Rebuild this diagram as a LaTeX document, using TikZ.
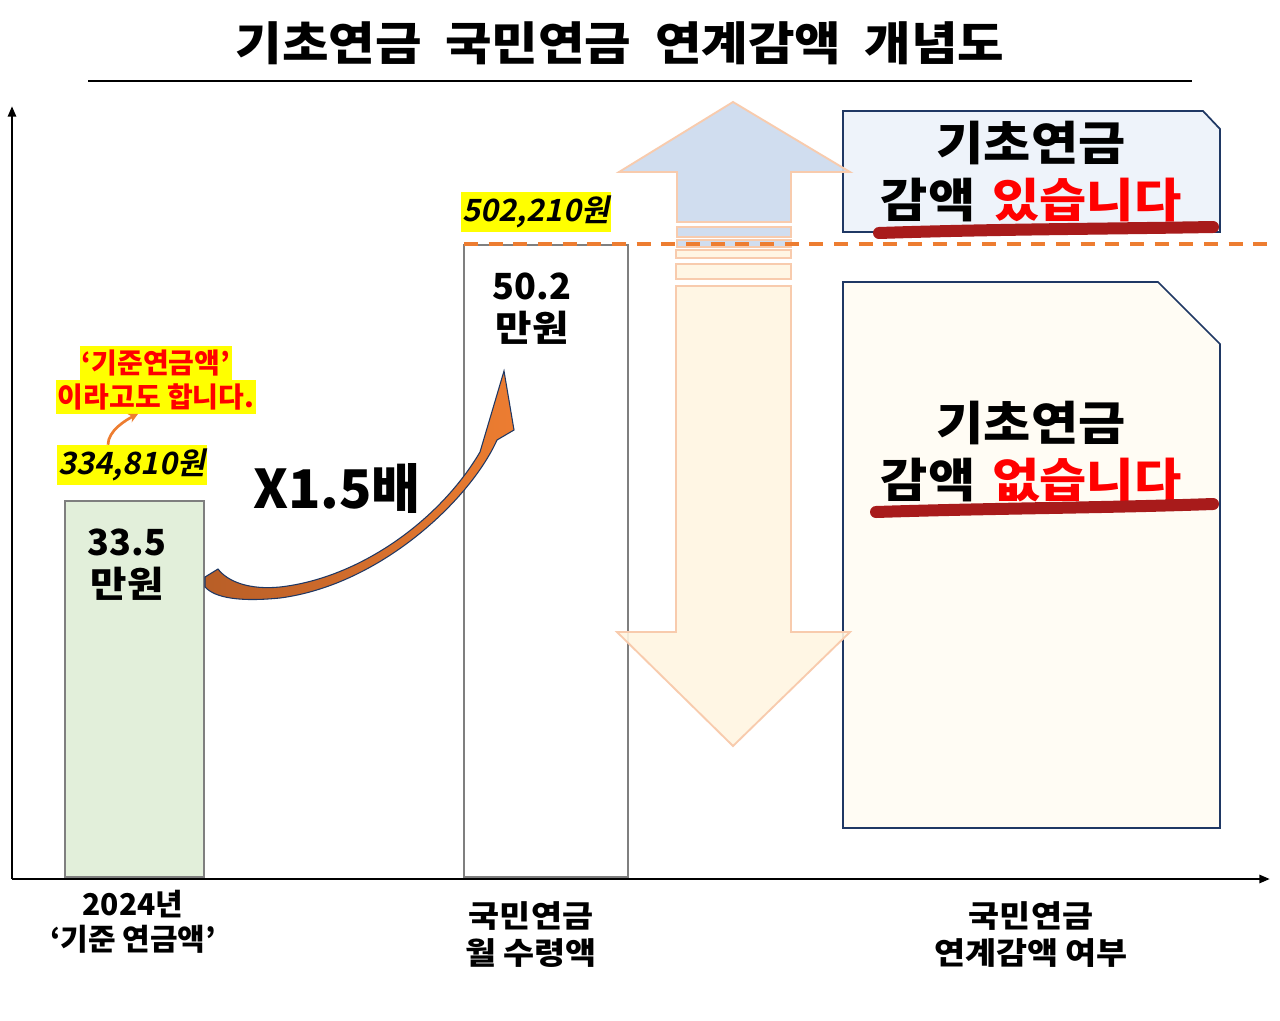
\documentclass[tikz,border=0pt]{standalone}
\usepackage{fontspec}
\setmainfont{Noto Sans CJK KR}
\newfontfamily\krw{Noto Sans CJK KR}[FakeStretch=1.1]
\newfontfamily\numit{Noto Sans CJK KR}[UprightFont=* Bold, FakeSlant=0.2]
\usetikzlibrary{arrows.meta}
\definecolor{barone}{HTML}{E2EFDA}
\definecolor{bargray}{HTML}{7F7F7F}
\definecolor{orng}{HTML}{ED7D31}
\definecolor{arrbrown}{HTML}{B85E27}
\definecolor{peach}{HTML}{F8CBAD}
\definecolor{arrblue}{HTML}{CDDBEE}
\definecolor{arryel}{HTML}{FFF6E2}
\definecolor{boxblue}{HTML}{EEF3FA}
\definecolor{boxcream}{HTML}{FFFCF4}
\definecolor{navy}{HTML}{1F3864}
\definecolor{ulred}{HTML}{A81B1B}
\definecolor{hlyellow}{HTML}{FFFF00}
\definecolor{txtred}{HTML}{FF0000}
\tikzset{
  barstyle/.style={draw=bargray, line width=1.2pt, inner sep=0pt},
  bartext/.style={font=\fontsize{27}{31.5}\selectfont\bfseries, align=center, inner sep=0pt},
  ylabel/.style={fill=hlyellow, font=\numit\fontsize{23}{26}\selectfont, inner xsep=1.5pt, inner ysep=0pt, minimum height=30pt},
  redlab/.style={fill=hlyellow, text=txtred, font=\fontsize{21}{24}\selectfont\bfseries, inner xsep=1.5pt, inner ysep=0pt, minimum height=25pt},
  arrowblue/.style={draw=peach, line width=1.4pt, fill=arrblue, fill opacity=0.92},
  arrowyel/.style={draw=peach, line width=1.4pt, fill=arryel, fill opacity=0.9},
  boxstyle/.style={draw=navy, line width=1.3pt},
  boxtext/.style={font=\krw\fontsize{35}{42.75}\selectfont\bfseries, align=center, inner sep=0pt},
  redline/.style={draw=ulred, line width=9pt, line cap=round},
  axislab/.style={font=\krw\fontsize{23}{27.75}\selectfont\bfseries, align=center, inner sep=0pt},
  axisline/.style={line width=2.2pt, -{Triangle[length=8pt,width=6pt]}}
}
\begin{document}
\begin{tikzpicture}[x=0.75pt,y=-0.75pt]
\useasboundingbox (0,0) rectangle (1280,1020);
\fill[white] (0,0) rectangle (1280,1020);

% title
\node[font=\krw\fontsize{34.5}{40}\selectfont\bfseries, inner sep=0pt] (title) at (620,43) {기초연금\hspace{9pt} 국민연금\hspace{9pt} 연계감액\hspace{9pt} 개념도};
\coordinate (ulL) at (88,81);
\coordinate (ulR) at (1192,81);
\draw[line width=2.2pt] (ulL) -- (ulR);

% bars
\node[barstyle, fill=barone, minimum width=104.25pt, minimum height=282pt] (bar1) at (134.5,689) {};
\node[barstyle, fill=white, minimum width=123pt, minimum height=474pt] (bar2) at (546,561) {};
\node[bartext] (t1) at (127,565) {33.5\\{\krw 만원}};
\node[bartext] (t2) at (532,309) {50.2\\{\krw 만원}};

% labels
\node[ylabel] (v334) at (132,465) {334,810원};
\node[ylabel] (v502) at (536,212) {502,210원};
\node[redlab] (lab2) at (156,397) {이라고도 합니다.};
\node[redlab] (lab1) at (156,363) {‘기준연금액’};
\draw[orng, line width=2pt, -{Stealth[length=7pt,width=7pt]}] ([xshift=-18pt]v334.north) .. controls +(0,-14) and +(-12,6) .. ([xshift=-13.5pt]lab2.south);

\node[font=\fontsize{40}{44}\selectfont\bfseries, inner sep=0pt] (mult) at (337,488) {X1.5배};

% big curved arrow
\shadedraw[left color=arrbrown, middle color=orng, right color=orng, draw=navy, line width=0.8pt]
  (205,577) -- (218,569) .. controls (228,582) and (250,590) .. (280,587)
  .. controls (360,578) and (440,520) .. (480,452) -- (504,371) -- (514,430) -- (497,440)
  .. controls (470,500) and (380,585) .. (280,598)
  .. controls (240,602) and (215,598) .. (205,587) -- cycle;

% boxes
\draw[boxstyle, fill=boxblue] (843,111) -- (1203,111) -- (1220,129) -- (1220,232) -- (843,232) -- cycle;
\draw[boxstyle, fill=boxcream] (843,282) -- (1158,282) -- (1220,344) -- (1220,828) -- (843,828) -- cycle;

% up / down arrows
\draw[arrowblue] (733,102) -- (850,172) -- (791,172) -- (791,222) -- (677,222) -- (677,172) -- (619,172) -- cycle;
\draw[arrowblue] (677,227) rectangle (791,237);
\draw[arrowblue] (677,240) rectangle (791,247);
\draw[arrowyel] (676,250) rectangle (791,258);
\draw[arrowyel] (676,264) rectangle (791,279);
\draw[arrowyel] (676,286) -- (791,286) -- (791,632) -- (850,632) -- (733,746) -- (617,632) -- (676,632) -- cycle;

% dashed level line
\coordinate (dL) at (464,244);
\coordinate (dR) at (1272,244);
\draw[orng, line width=3pt, dash pattern=on 10.5pt off 8pt] (dL) -- (dR);

% box texts
\node[boxtext] (b1t) at (1031,171.5) {기초연금\\감액\hspace{4pt} \textcolor{txtred}{있습니다}};
\node[boxtext] (b2t) at (1031,451.5) {기초연금\\감액\hspace{4pt} \textcolor{txtred}{없습니다}};
\coordinate (u1L) at (879,233);
\coordinate (u1R) at (1213,227);
\coordinate (u2L) at (876,512);
\coordinate (u2R) at (1213,504);
\draw[redline] (u1L) .. controls (1000,229) and (1100,229) .. (u1R);
\draw[redline] (u2L) .. controls (1000,508) and (1100,508) .. (u2R);

% axes
\coordinate (O) at (12,879);
\coordinate (ytop) at (12,106);
\coordinate (xend) at (1270,879);
\draw[axisline] (O) -- (ytop);
\draw[axisline] (O) -- (xend);

% axis labels
\node[axislab, font=\fontsize{22.5}{26.5}\selectfont\bfseries] (x1) at (133,922) {2024년\\‘기준 연금액’};
\node[axislab] (x2) at (531,934.5) {국민연금\\월 수령액};
\node[axislab] (x3) at (1031,934.5) {국민연금\\연계감액 여부};
\end{tikzpicture}
\end{document}
